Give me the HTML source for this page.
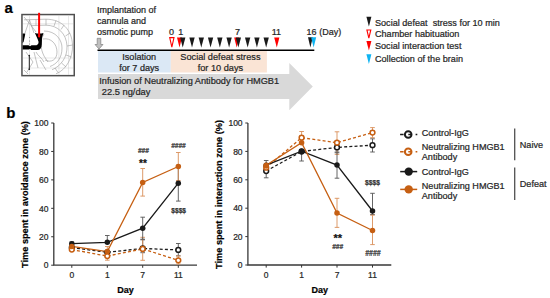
<!DOCTYPE html>
<html><head><meta charset="utf-8"><style>
html,body{margin:0;padding:0;background:#fff;width:550px;height:298px;overflow:hidden}
svg{display:block}
text{stroke:#262626;stroke-width:0.22px;paint-order:stroke}
</style></head><body>
<svg width="550" height="298" viewBox="0 0 550 298">
<rect width="550" height="298" fill="#fff"/>
<text x="4.4" y="12.7" font-family="Liberation Sans, sans-serif" font-size="15" font-weight="bold" fill="#000">a</text>

<g>
<rect x="21.95" y="14.55" width="52.3" height="61.1" fill="#fff" stroke="#505050" stroke-width="1.5"/>
<g fill="none" stroke="#d2d2d2" stroke-width="0.5">
<line x1="23" y1="23.8" x2="73" y2="23.8"/><line x1="23" y1="58" x2="73" y2="58"/>
<line x1="58.9" y1="15.5" x2="58.9" y2="75"/><line x1="68.5" y1="15.5" x2="68.5" y2="75"/>
<line x1="29.5" y1="15.5" x2="29.5" y2="75"/><line x1="23" y1="68" x2="73" y2="68"/>
</g>
<g fill="none" stroke="#9a9a9a" stroke-width="0.6">
<path d="M24 19.8 L46 19.2 C62 19.2, 72 30, 72.5 45 C73 58, 66 70, 56 73.8"/>
<path d="M31 25.6 L46 25.2 C58 25.2, 66.5 34, 67 46 C67.5 57, 61 66, 52 69.8"/>
<path d="M36 19.6 L36 25.5 M46 19.2 L46 25.2 M56 20.6 L54 26 M64 25 L61 29.5 M70 33 L65.5 36 M72.5 45 L67 46 M71.5 57 L66 55 M66 67 L61.5 63 M58 72.5 L55 68"/>
<path d="M44 31 C56 31, 62 40, 62 48 C62 58, 57 64, 50 66.5"/>
<path d="M43 39 C51 37.5, 57 44, 57 52 C57 60, 51 63, 45 60"/>
<path d="M44 34 C40 40, 40 48, 44 56 L48 62"/>
<path d="M24 17 L30 24 L36 32 M29.5 20 L25 33 M29.5 20 L34 33"/>
<path d="M26 52 L33 62 L27 72 M34 52 L38 68 M40 60 L46 70 M24 70 L28 74 M36 52 C38 56 42 58 44 62"/>
</g>
<path d="M34.9 33 Q39 34 43.5 33 L42 37.5 L41.8 44.5 Q41.6 49.9 37.5 50.1 L31.2 50.1 L30 49 L28.8 49.6 L22.6 49.6 L22.6 45.2 L28.5 45.2 L30 46.2 L31.5 45.2 L36.5 45.2 Q38.7 44.6 38.6 42 L37.6 39 Z" fill="#000"/>
<path d="M22.6 33.4 L25.3 33.4 L24.7 37 L23.6 41.8 L22.6 43.2 Z" fill="#000"/>
<g fill="#777"><circle cx="29.6" cy="37.5" r="0.5"/><circle cx="29.6" cy="41" r="0.5"/><circle cx="29.6" cy="44" r="0.5"/></g>
<path d="M29.3 55 L29.3 69.7" stroke="#222" stroke-width="1"/>
<circle cx="29.3" cy="55.5" r="0.8" fill="#222"/><circle cx="29.3" cy="69.2" r="0.8" fill="#222"/>
<line x1="39.1" y1="12.8" x2="39.1" y2="37" stroke="#ff0000" stroke-width="2"/>
<path d="M37.9 35.5 L40.3 35.5 L39.1 38.2 Z" fill="#ff0000"/>
</g>

<text x="97" y="12.9" font-family="Liberation Sans, sans-serif" font-size="9" fill="#262626">Implantation of</text>
<text x="97" y="23.8" font-family="Liberation Sans, sans-serif" font-size="9" fill="#262626">cannula and</text>
<text x="97" y="34.7" font-family="Liberation Sans, sans-serif" font-size="9" fill="#262626">osmotic pump</text>
<path d="M97.2 38.3 L100.8 38.3 L100.8 44.5 L103 44.5 L99 49 L95 44.5 L97.2 44.5 Z" fill="#bfbfbf" stroke="#7f7f7f" stroke-width="0.7"/>
<rect x="98" y="51.1" width="72.8" height="21.4" fill="#dbe8f5"/>
<rect x="170.8" y="51.1" width="96.1" height="21.4" fill="#fae4d5"/>
<path d="M98 74.1 L289.3 74.1 L289.3 63 L312.8 86.4 L289.3 110.3 L289.3 99 L98 99 Z" fill="#d9d9d9"/>
<line x1="97.5" y1="50.3" x2="314.3" y2="50.3" stroke="#000" stroke-width="1.6"/>
<text x="139.2" y="59.7" font-family="Liberation Sans, sans-serif" font-size="9.1" fill="#262626" text-anchor="middle">Isolation</text>
<text x="139.2" y="70.9" font-family="Liberation Sans, sans-serif" font-size="9.1" fill="#262626" text-anchor="middle">for 7 days</text>
<text x="220.4" y="59.8" font-family="Liberation Sans, sans-serif" font-size="9.2" fill="#262626" text-anchor="middle">Social defeat stress</text>
<text x="220.4" y="71.0" font-family="Liberation Sans, sans-serif" font-size="9.2" fill="#262626" text-anchor="middle">for 10 days</text>
<text x="99.3" y="84.3" font-family="Liberation Sans, sans-serif" font-size="9.2" fill="#262626">Infusion of Neutralizing Antibody for HMGB1</text>
<text x="101.8" y="95.4" font-family="Liberation Sans, sans-serif" font-size="9.3" fill="#262626">22.5 ng/day</text>
<text x="171.5" y="34.6" font-family="Liberation Sans, sans-serif" font-size="9" fill="#262626" text-anchor="middle">0</text>
<text x="180.8" y="34.6" font-family="Liberation Sans, sans-serif" font-size="9" fill="#262626" text-anchor="middle">1</text>
<text x="237.6" y="34.7" font-family="Liberation Sans, sans-serif" font-size="9" fill="#262626" text-anchor="middle">7</text>
<text x="276.4" y="35.0" font-family="Liberation Sans, sans-serif" font-size="9" fill="#262626" text-anchor="middle">11</text>
<text x="311.6" y="35.3" font-family="Liberation Sans, sans-serif" font-size="9" fill="#262626" text-anchor="middle">16</text>
<text x="319.3" y="35.3" font-family="Liberation Sans, sans-serif" font-size="9" fill="#262626">(Day)</text>
<polygon points="169.70,37.60 174.00,37.60 171.85,47.20" fill="#fff" stroke="#ff0000" stroke-width="1.1"/>
<polygon points="177.00,37.40 182.00,37.40 179.50,47.60" fill="#ff0000"/>
<polygon points="234.20,37.40 239.20,37.40 236.70,47.60" fill="#ff0000"/>
<polygon points="274.20,37.40 279.40,37.40 276.80,47.60" fill="#ff0000"/>
<polygon points="180.10,37.40 185.40,37.40 182.75,47.60" fill="#1a1a1a"/>
<polygon points="189.37,37.40 194.67,37.40 192.02,47.60" fill="#1a1a1a"/>
<polygon points="198.64,37.40 203.94,37.40 201.29,47.60" fill="#1a1a1a"/>
<polygon points="207.91,37.40 213.21,37.40 210.56,47.60" fill="#1a1a1a"/>
<polygon points="217.18,37.40 222.48,37.40 219.83,47.60" fill="#1a1a1a"/>
<polygon points="226.45,37.40 231.75,37.40 229.10,47.60" fill="#1a1a1a"/>
<polygon points="235.72,37.40 241.02,37.40 238.37,47.60" fill="#1a1a1a"/>
<polygon points="244.99,37.40 250.29,37.40 247.64,47.60" fill="#1a1a1a"/>
<polygon points="254.26,37.40 259.56,37.40 256.91,47.60" fill="#1a1a1a"/>
<polygon points="263.53,37.40 268.83,37.40 266.18,47.60" fill="#1a1a1a"/>
<polygon points="308.00,37.30 312.80,37.30 310.40,47.60" fill="#1a1a1a"/>
<polygon points="311.10,37.30 316.20,37.30 313.65,47.60" fill="#0fb4f2"/>
<polygon points="366.40,16.80 371.40,16.80 368.90,26.60" fill="#1a1a1a"/>
<polygon points="366.90,30.00 370.80,30.00 368.85,38.20" fill="#fff" stroke="#ff0000" stroke-width="1.1"/>
<polygon points="366.40,41.00 371.40,41.00 368.90,50.40" fill="#ff0000"/>
<polygon points="366.40,54.20 371.40,54.20 368.90,64.00" fill="#0fb4f2"/>
<text x="375" y="25.5" font-family="Liberation Sans, sans-serif" font-size="9.1" fill="#262626">Social defeat&#160; stress for 10 min</text>
<text x="375" y="36.8" font-family="Liberation Sans, sans-serif" font-size="9.1" fill="#262626">Chamber habituation</text>
<text x="375" y="48.8" font-family="Liberation Sans, sans-serif" font-size="9.1" fill="#262626">Social interaction test</text>
<text x="375" y="62.4" font-family="Liberation Sans, sans-serif" font-size="9.1" fill="#262626">Collection of the brain</text>
<text x="6.2" y="118.1" font-family="Liberation Sans, sans-serif" font-size="15" font-weight="bold" fill="#000">b</text>
<path d="M53.8,123.0 L53.8,265.2 L197.0,265.2" fill="none" stroke="#383838" stroke-width="1.3"/>
<line x1="51.20" y1="265.20" x2="53.80" y2="265.20" stroke="#333" stroke-width="1"/>
<text x="48.50" y="268.40" font-family="Liberation Sans, sans-serif" font-size="8.5" fill="#262626" text-anchor="end">0</text>
<line x1="51.20" y1="236.76" x2="53.80" y2="236.76" stroke="#333" stroke-width="1"/>
<text x="48.50" y="239.96" font-family="Liberation Sans, sans-serif" font-size="8.5" fill="#262626" text-anchor="end">20</text>
<line x1="51.20" y1="208.32" x2="53.80" y2="208.32" stroke="#333" stroke-width="1"/>
<text x="48.50" y="211.52" font-family="Liberation Sans, sans-serif" font-size="8.5" fill="#262626" text-anchor="end">40</text>
<line x1="51.20" y1="179.88" x2="53.80" y2="179.88" stroke="#333" stroke-width="1"/>
<text x="48.50" y="183.08" font-family="Liberation Sans, sans-serif" font-size="8.5" fill="#262626" text-anchor="end">60</text>
<line x1="51.20" y1="151.44" x2="53.80" y2="151.44" stroke="#333" stroke-width="1"/>
<text x="48.50" y="154.64" font-family="Liberation Sans, sans-serif" font-size="8.5" fill="#262626" text-anchor="end">80</text>
<line x1="51.20" y1="123.00" x2="53.80" y2="123.00" stroke="#333" stroke-width="1"/>
<text x="48.50" y="126.20" font-family="Liberation Sans, sans-serif" font-size="8.5" fill="#262626" text-anchor="end">100</text>
<line x1="71.80" y1="265.20" x2="71.80" y2="267.80" stroke="#333" stroke-width="1"/>
<text x="71.80" y="277.70" font-family="Liberation Sans, sans-serif" font-size="8.5" fill="#262626" text-anchor="middle">0</text>
<line x1="107.30" y1="265.20" x2="107.30" y2="267.80" stroke="#333" stroke-width="1"/>
<text x="107.30" y="277.70" font-family="Liberation Sans, sans-serif" font-size="8.5" fill="#262626" text-anchor="middle">1</text>
<line x1="142.70" y1="265.20" x2="142.70" y2="267.80" stroke="#333" stroke-width="1"/>
<text x="142.70" y="277.70" font-family="Liberation Sans, sans-serif" font-size="8.5" fill="#262626" text-anchor="middle">7</text>
<line x1="178.30" y1="265.20" x2="178.30" y2="267.80" stroke="#333" stroke-width="1"/>
<text x="178.30" y="277.70" font-family="Liberation Sans, sans-serif" font-size="8.5" fill="#262626" text-anchor="middle">11</text>
<text x="125.55" y="292.70" font-family="Liberation Sans, sans-serif" font-size="9" font-weight="bold" fill="#000" text-anchor="middle">Day</text>
<text transform="translate(28.00,194.50) rotate(-90)" font-family="Liberation Sans, sans-serif" font-size="9.2" font-weight="bold" fill="#000" text-anchor="middle">Time spent in avoidance zone (%)</text>
<polyline points="71.80,247.60 107.30,252.30 142.70,248.50 178.30,249.90" fill="none" stroke="#1a1a1a" stroke-width="1.3" stroke-dasharray="3,2.2"/>
<polyline points="71.80,249.60 107.30,256.10 142.70,248.90 178.30,260.30" fill="none" stroke="#c65f12" stroke-width="1.3" stroke-dasharray="3,2.2"/>
<polyline points="71.80,243.70 107.30,242.30 142.70,228.20 178.30,183.20" fill="none" stroke="#1a1a1a" stroke-width="1.3"/>
<polyline points="71.80,246.40 107.30,251.60 142.70,182.50 178.30,166.50" fill="none" stroke="#c65f12" stroke-width="1.3"/>
<line x1="142.70" y1="239.80" x2="142.70" y2="252.70" stroke="#555" stroke-width="0.9"/>
<line x1="140.40" y1="239.80" x2="145.00" y2="239.80" stroke="#555" stroke-width="0.9"/>
<line x1="140.40" y1="252.70" x2="145.00" y2="252.70" stroke="#555" stroke-width="0.9"/>
<line x1="178.30" y1="243.50" x2="178.30" y2="255.80" stroke="#555" stroke-width="0.9"/>
<line x1="176.00" y1="243.50" x2="180.60" y2="243.50" stroke="#555" stroke-width="0.9"/>
<line x1="176.00" y1="255.80" x2="180.60" y2="255.80" stroke="#555" stroke-width="0.9"/>
<line x1="107.30" y1="256.10" x2="107.30" y2="260.20" stroke="#d9905a" stroke-width="0.9"/>
<line x1="105.00" y1="260.20" x2="109.60" y2="260.20" stroke="#d9905a" stroke-width="0.9"/>
<line x1="142.70" y1="237.30" x2="142.70" y2="260.30" stroke="#d9905a" stroke-width="0.9"/>
<line x1="140.40" y1="237.30" x2="145.00" y2="237.30" stroke="#d9905a" stroke-width="0.9"/>
<line x1="140.40" y1="260.30" x2="145.00" y2="260.30" stroke="#d9905a" stroke-width="0.9"/>
<line x1="178.30" y1="256.00" x2="178.30" y2="264.00" stroke="#d9905a" stroke-width="0.9"/>
<line x1="176.00" y1="256.00" x2="180.60" y2="256.00" stroke="#d9905a" stroke-width="0.9"/>
<line x1="176.00" y1="264.00" x2="180.60" y2="264.00" stroke="#d9905a" stroke-width="0.9"/>
<line x1="71.80" y1="241.80" x2="71.80" y2="243.70" stroke="#555" stroke-width="0.9"/>
<line x1="69.50" y1="241.80" x2="74.10" y2="241.80" stroke="#555" stroke-width="0.9"/>
<line x1="107.30" y1="235.50" x2="107.30" y2="242.30" stroke="#555" stroke-width="0.9"/>
<line x1="105.00" y1="235.50" x2="109.60" y2="235.50" stroke="#555" stroke-width="0.9"/>
<line x1="142.70" y1="217.20" x2="142.70" y2="239.20" stroke="#555" stroke-width="0.9"/>
<line x1="140.40" y1="217.20" x2="145.00" y2="217.20" stroke="#555" stroke-width="0.9"/>
<line x1="140.40" y1="239.20" x2="145.00" y2="239.20" stroke="#555" stroke-width="0.9"/>
<line x1="178.30" y1="165.30" x2="178.30" y2="201.10" stroke="#555" stroke-width="0.9"/>
<line x1="176.00" y1="165.30" x2="180.60" y2="165.30" stroke="#555" stroke-width="0.9"/>
<line x1="176.00" y1="201.10" x2="180.60" y2="201.10" stroke="#555" stroke-width="0.9"/>
<line x1="107.30" y1="246.50" x2="107.30" y2="251.60" stroke="#d9905a" stroke-width="0.9"/>
<line x1="105.00" y1="246.50" x2="109.60" y2="246.50" stroke="#d9905a" stroke-width="0.9"/>
<line x1="142.70" y1="168.50" x2="142.70" y2="196.10" stroke="#d9905a" stroke-width="0.9"/>
<line x1="140.40" y1="168.50" x2="145.00" y2="168.50" stroke="#d9905a" stroke-width="0.9"/>
<line x1="140.40" y1="196.10" x2="145.00" y2="196.10" stroke="#d9905a" stroke-width="0.9"/>
<line x1="178.30" y1="152.50" x2="178.30" y2="180.50" stroke="#d9905a" stroke-width="0.9"/>
<line x1="176.00" y1="152.50" x2="180.60" y2="152.50" stroke="#d9905a" stroke-width="0.9"/>
<line x1="176.00" y1="180.50" x2="180.60" y2="180.50" stroke="#d9905a" stroke-width="0.9"/>
<circle cx="71.80" cy="247.60" r="2.4" fill="#fff" stroke="#1a1a1a" stroke-width="1.5"/>
<circle cx="107.30" cy="252.30" r="2.4" fill="#fff" stroke="#1a1a1a" stroke-width="1.5"/>
<circle cx="142.70" cy="248.50" r="2.4" fill="#fff" stroke="#1a1a1a" stroke-width="1.5"/>
<circle cx="178.30" cy="249.90" r="2.4" fill="#fff" stroke="#1a1a1a" stroke-width="1.5"/>
<circle cx="71.80" cy="249.60" r="2.4" fill="#fff" stroke="#c65f12" stroke-width="1.5"/>
<circle cx="107.30" cy="256.10" r="2.4" fill="#fff" stroke="#c65f12" stroke-width="1.5"/>
<circle cx="142.70" cy="248.90" r="2.4" fill="#fff" stroke="#c65f12" stroke-width="1.5"/>
<circle cx="178.30" cy="260.30" r="2.4" fill="#fff" stroke="#c65f12" stroke-width="1.5"/>
<circle cx="71.80" cy="243.70" r="2.75" fill="#1a1a1a"/>
<circle cx="107.30" cy="242.30" r="2.75" fill="#1a1a1a"/>
<circle cx="142.70" cy="228.20" r="2.75" fill="#1a1a1a"/>
<circle cx="178.30" cy="183.20" r="2.75" fill="#1a1a1a"/>
<circle cx="71.80" cy="246.40" r="2.75" fill="#c65f12"/>
<circle cx="107.30" cy="251.60" r="2.75" fill="#c65f12"/>
<circle cx="142.70" cy="182.50" r="2.75" fill="#c65f12"/>
<circle cx="178.30" cy="166.50" r="2.75" fill="#c65f12"/>
<text x="138.00" y="152.75" font-family="Liberation Sans, sans-serif" font-size="6.62" fill="#333" font-weight="bold" font-style="italic" textLength="10.70" lengthAdjust="spacingAndGlyphs">###</text>
<text x="139.00" y="166.77" font-family="Liberation Sans, sans-serif" font-size="10.54" font-weight="bold" fill="#111" textLength="7.80" lengthAdjust="spacingAndGlyphs">**</text>
<text x="171.30" y="147.55" font-family="Liberation Sans, sans-serif" font-size="7.50" fill="#333" font-weight="bold" font-style="italic" textLength="14.30" lengthAdjust="spacingAndGlyphs">####</text>
<text x="171.30" y="213.27" font-family="Liberation Sans, sans-serif" font-size="6.91" fill="#333" font-weight="bold" textLength="14.70" lengthAdjust="spacingAndGlyphs">$$$$</text>
<path d="M247.9,123.0 L247.9,265.0 L391.3,265.0" fill="none" stroke="#383838" stroke-width="1.3"/>
<line x1="245.30" y1="265.00" x2="247.90" y2="265.00" stroke="#333" stroke-width="1"/>
<text x="242.60" y="268.20" font-family="Liberation Sans, sans-serif" font-size="8.5" fill="#262626" text-anchor="end">0</text>
<line x1="245.30" y1="236.60" x2="247.90" y2="236.60" stroke="#333" stroke-width="1"/>
<text x="242.60" y="239.80" font-family="Liberation Sans, sans-serif" font-size="8.5" fill="#262626" text-anchor="end">20</text>
<line x1="245.30" y1="208.20" x2="247.90" y2="208.20" stroke="#333" stroke-width="1"/>
<text x="242.60" y="211.40" font-family="Liberation Sans, sans-serif" font-size="8.5" fill="#262626" text-anchor="end">40</text>
<line x1="245.30" y1="179.80" x2="247.90" y2="179.80" stroke="#333" stroke-width="1"/>
<text x="242.60" y="183.00" font-family="Liberation Sans, sans-serif" font-size="8.5" fill="#262626" text-anchor="end">60</text>
<line x1="245.30" y1="151.40" x2="247.90" y2="151.40" stroke="#333" stroke-width="1"/>
<text x="242.60" y="154.60" font-family="Liberation Sans, sans-serif" font-size="8.5" fill="#262626" text-anchor="end">80</text>
<line x1="245.30" y1="123.00" x2="247.90" y2="123.00" stroke="#333" stroke-width="1"/>
<text x="242.60" y="126.20" font-family="Liberation Sans, sans-serif" font-size="8.5" fill="#262626" text-anchor="end">100</text>
<line x1="266.20" y1="265.00" x2="266.20" y2="267.60" stroke="#333" stroke-width="1"/>
<text x="266.20" y="277.50" font-family="Liberation Sans, sans-serif" font-size="8.5" fill="#262626" text-anchor="middle">0</text>
<line x1="301.60" y1="265.00" x2="301.60" y2="267.60" stroke="#333" stroke-width="1"/>
<text x="301.60" y="277.50" font-family="Liberation Sans, sans-serif" font-size="8.5" fill="#262626" text-anchor="middle">1</text>
<line x1="337.00" y1="265.00" x2="337.00" y2="267.60" stroke="#333" stroke-width="1"/>
<text x="337.00" y="277.50" font-family="Liberation Sans, sans-serif" font-size="8.5" fill="#262626" text-anchor="middle">7</text>
<line x1="372.50" y1="265.00" x2="372.50" y2="267.60" stroke="#333" stroke-width="1"/>
<text x="372.50" y="277.50" font-family="Liberation Sans, sans-serif" font-size="8.5" fill="#262626" text-anchor="middle">11</text>
<text x="319.85" y="292.50" font-family="Liberation Sans, sans-serif" font-size="9" font-weight="bold" fill="#000" text-anchor="middle">Day</text>
<text transform="translate(222.10,194.50) rotate(-90)" font-family="Liberation Sans, sans-serif" font-size="9.2" font-weight="bold" fill="#000" text-anchor="middle">Time spent in interaction zone (%)</text>
<polyline points="266.20,171.00 301.60,151.50 337.00,147.40 372.50,145.20" fill="none" stroke="#1a1a1a" stroke-width="1.3" stroke-dasharray="3,2.2"/>
<polyline points="266.20,167.70 301.60,137.70 337.00,142.70 372.50,132.60" fill="none" stroke="#c65f12" stroke-width="1.3" stroke-dasharray="3,2.2"/>
<polyline points="266.20,165.20 301.60,151.20 337.00,165.10 372.50,211.00" fill="none" stroke="#1a1a1a" stroke-width="1.3"/>
<polyline points="266.20,165.20 301.60,142.70 337.00,213.00 372.50,230.50" fill="none" stroke="#c65f12" stroke-width="1.3"/>
<line x1="266.20" y1="171.00" x2="266.20" y2="177.80" stroke="#555" stroke-width="0.9"/>
<line x1="263.90" y1="177.80" x2="268.50" y2="177.80" stroke="#555" stroke-width="0.9"/>
<line x1="337.00" y1="141.00" x2="337.00" y2="152.80" stroke="#555" stroke-width="0.9"/>
<line x1="334.70" y1="141.00" x2="339.30" y2="141.00" stroke="#555" stroke-width="0.9"/>
<line x1="334.70" y1="152.80" x2="339.30" y2="152.80" stroke="#555" stroke-width="0.9"/>
<line x1="372.50" y1="138.80" x2="372.50" y2="152.00" stroke="#555" stroke-width="0.9"/>
<line x1="370.20" y1="138.80" x2="374.80" y2="138.80" stroke="#555" stroke-width="0.9"/>
<line x1="370.20" y1="152.00" x2="374.80" y2="152.00" stroke="#555" stroke-width="0.9"/>
<line x1="301.60" y1="131.50" x2="301.60" y2="137.70" stroke="#d9905a" stroke-width="0.9"/>
<line x1="299.30" y1="131.50" x2="303.90" y2="131.50" stroke="#d9905a" stroke-width="0.9"/>
<line x1="337.00" y1="131.80" x2="337.00" y2="154.40" stroke="#d9905a" stroke-width="0.9"/>
<line x1="334.70" y1="131.80" x2="339.30" y2="131.80" stroke="#d9905a" stroke-width="0.9"/>
<line x1="334.70" y1="154.40" x2="339.30" y2="154.40" stroke="#d9905a" stroke-width="0.9"/>
<line x1="372.50" y1="127.60" x2="372.50" y2="137.70" stroke="#d9905a" stroke-width="0.9"/>
<line x1="370.20" y1="127.60" x2="374.80" y2="127.60" stroke="#d9905a" stroke-width="0.9"/>
<line x1="370.20" y1="137.70" x2="374.80" y2="137.70" stroke="#d9905a" stroke-width="0.9"/>
<line x1="266.20" y1="160.50" x2="266.20" y2="165.20" stroke="#555" stroke-width="0.9"/>
<line x1="263.90" y1="160.50" x2="268.50" y2="160.50" stroke="#555" stroke-width="0.9"/>
<line x1="301.60" y1="151.20" x2="301.60" y2="161.00" stroke="#555" stroke-width="0.9"/>
<line x1="299.30" y1="161.00" x2="303.90" y2="161.00" stroke="#555" stroke-width="0.9"/>
<line x1="337.00" y1="152.00" x2="337.00" y2="178.20" stroke="#555" stroke-width="0.9"/>
<line x1="334.70" y1="152.00" x2="339.30" y2="152.00" stroke="#555" stroke-width="0.9"/>
<line x1="334.70" y1="178.20" x2="339.30" y2="178.20" stroke="#555" stroke-width="0.9"/>
<line x1="372.50" y1="193.30" x2="372.50" y2="214.50" stroke="#555" stroke-width="0.9"/>
<line x1="370.20" y1="193.30" x2="374.80" y2="193.30" stroke="#555" stroke-width="0.9"/>
<line x1="370.20" y1="214.50" x2="374.80" y2="214.50" stroke="#555" stroke-width="0.9"/>
<line x1="337.00" y1="198.30" x2="337.00" y2="227.40" stroke="#d9905a" stroke-width="0.9"/>
<line x1="334.70" y1="198.30" x2="339.30" y2="198.30" stroke="#d9905a" stroke-width="0.9"/>
<line x1="334.70" y1="227.40" x2="339.30" y2="227.40" stroke="#d9905a" stroke-width="0.9"/>
<line x1="372.50" y1="215.20" x2="372.50" y2="244.60" stroke="#d9905a" stroke-width="0.9"/>
<line x1="370.20" y1="215.20" x2="374.80" y2="215.20" stroke="#d9905a" stroke-width="0.9"/>
<line x1="370.20" y1="244.60" x2="374.80" y2="244.60" stroke="#d9905a" stroke-width="0.9"/>
<circle cx="266.20" cy="171.00" r="2.4" fill="#fff" stroke="#1a1a1a" stroke-width="1.5"/>
<circle cx="301.60" cy="151.50" r="2.4" fill="#fff" stroke="#1a1a1a" stroke-width="1.5"/>
<circle cx="337.00" cy="147.40" r="2.4" fill="#fff" stroke="#1a1a1a" stroke-width="1.5"/>
<circle cx="372.50" cy="145.20" r="2.4" fill="#fff" stroke="#1a1a1a" stroke-width="1.5"/>
<circle cx="266.20" cy="167.70" r="2.4" fill="#fff" stroke="#c65f12" stroke-width="1.5"/>
<circle cx="301.60" cy="137.70" r="2.4" fill="#fff" stroke="#c65f12" stroke-width="1.5"/>
<circle cx="337.00" cy="142.70" r="2.4" fill="#fff" stroke="#c65f12" stroke-width="1.5"/>
<circle cx="372.50" cy="132.60" r="2.4" fill="#fff" stroke="#c65f12" stroke-width="1.5"/>
<circle cx="266.20" cy="165.20" r="2.75" fill="#1a1a1a"/>
<circle cx="301.60" cy="151.20" r="2.75" fill="#1a1a1a"/>
<circle cx="337.00" cy="165.10" r="2.75" fill="#1a1a1a"/>
<circle cx="372.50" cy="211.00" r="2.75" fill="#1a1a1a"/>
<circle cx="266.20" cy="165.20" r="2.75" fill="#c65f12"/>
<circle cx="301.60" cy="142.70" r="2.75" fill="#c65f12"/>
<circle cx="337.00" cy="213.00" r="2.75" fill="#c65f12"/>
<circle cx="372.50" cy="230.50" r="2.75" fill="#c65f12"/>
<circle cx="266.20" cy="166.00" r="2.75" fill="#c65f12"/>
<text x="365.00" y="184.51" font-family="Liberation Sans, sans-serif" font-size="7.78" fill="#333" font-weight="bold" textLength="15.00" lengthAdjust="spacingAndGlyphs">$$$$</text>
<text x="333.40" y="241.65" font-family="Liberation Sans, sans-serif" font-size="11.08" font-weight="bold" fill="#111" textLength="8.60" lengthAdjust="spacingAndGlyphs">**</text>
<text x="332.30" y="249.15" font-family="Liberation Sans, sans-serif" font-size="7.21" fill="#333" font-weight="bold" font-style="italic" textLength="10.70" lengthAdjust="spacingAndGlyphs">###</text>
<text x="365.30" y="255.75" font-family="Liberation Sans, sans-serif" font-size="8.24" fill="#333" font-weight="bold" font-style="italic" textLength="15.20" lengthAdjust="spacingAndGlyphs">####</text>
<circle cx="408.2" cy="134.5" r="3.3" fill="#fff" stroke="#1a1a1a" stroke-width="2"/><path d="M400.1 134.5 H403.6 M408.3 134.5 H411.8 M415.6 134.5 H417.3" stroke="#1a1a1a" stroke-width="1.6"/>
<circle cx="408.2" cy="151.8" r="3.3" fill="#fff" stroke="#c65f12" stroke-width="2"/><path d="M400.1 151.8 H403.6 M408.3 151.8 H411.8 M415.6 151.8 H417.3" stroke="#c65f12" stroke-width="1.6"/>
<line x1="400.2" y1="171.6" x2="417.2" y2="171.6" stroke="#1a1a1a" stroke-width="1.5"/><circle cx="408.7" cy="171.6" r="4.2" fill="#1a1a1a"/>
<line x1="400.2" y1="189.4" x2="417.2" y2="189.4" stroke="#c65f12" stroke-width="1.5"/><circle cx="408.7" cy="189.4" r="4.2" fill="#c65f12"/>
<text x="421.8" y="136.2" font-family="Liberation Sans, sans-serif" font-size="9.1" fill="#262626">Control-IgG</text>
<text x="421.8" y="149.9" font-family="Liberation Sans, sans-serif" font-size="9.1" fill="#262626">Neutralizing HMGB1</text>
<text x="421.8" y="160.3" font-family="Liberation Sans, sans-serif" font-size="9.1" fill="#262626">Antibody</text>
<text x="421.8" y="174.7" font-family="Liberation Sans, sans-serif" font-size="9.1" fill="#262626">Control-IgG</text>
<text x="421.8" y="188.5" font-family="Liberation Sans, sans-serif" font-size="9.1" fill="#262626">Neutralizing HMGB1</text>
<text x="421.8" y="199.0" font-family="Liberation Sans, sans-serif" font-size="9.1" fill="#262626">Antibody</text>
<line x1="514.7" y1="128.5" x2="514.7" y2="160.2" stroke="#505050" stroke-width="1.3"/>
<line x1="514.7" y1="167.4" x2="514.7" y2="200" stroke="#505050" stroke-width="1.3"/>
<text x="519.8" y="147.7" font-family="Liberation Sans, sans-serif" font-size="9.1" fill="#262626">Naive</text>
<text x="519.8" y="187.3" font-family="Liberation Sans, sans-serif" font-size="9.1" fill="#262626">Defeat</text>
</svg>
</body></html>
